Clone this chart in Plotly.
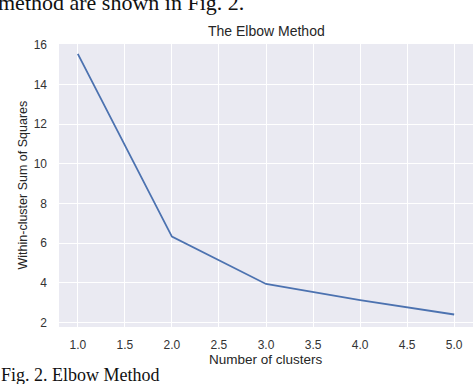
import plotly.graph_objects as go

clusters = [1, 2, 3, 4, 5]
wcss = [15.55, 6.33, 3.94, 3.13, 2.40]
x_ticks = [1.0, 1.5, 2.0, 2.5, 3.0, 3.5, 4.0, 4.5, 5.0]
y_ticks = [2, 4, 6, 8, 10, 12, 14, 16]

fig = go.Figure()
fig.add_trace(go.Scatter(x=clusters, y=wcss, mode="lines",
                         line=dict(color="#4c72b0", width=1.8)))

W, H = 474, 384
L, R, T, B = 59, 1, 44, 57
tick_font = dict(family="Liberation Sans, Arial, sans-serif", size=12, color="#333333")

fig.update_layout(
    width=W, height=H, autosize=False,
    margin=dict(l=L, r=R, t=T, b=B, autoexpand=False),
    paper_bgcolor="white", plot_bgcolor="#eaeaf2",
    showlegend=False,
    xaxis=dict(range=[0.8, 5.2], tickvals=x_ticks,
               ticktext=[f"{v:.1f}" for v in x_ticks],
               showgrid=True, gridcolor="white", gridwidth=1.2,
               zeroline=False, showline=False, ticks="",
               tickfont=tick_font, ticklabelstandoff=9, automargin=False),
    yaxis=dict(range=[1.77, 16.05], tickvals=y_ticks,
               showgrid=True, gridcolor="white", gridwidth=1.2,
               zeroline=False, showline=False, ticks="",
               tickfont=tick_font, ticklabelstandoff=11, automargin=False),
    annotations=[
        dict(text="The Elbow Method", xref="paper", yref="paper", x=0.5, y=1,
             yshift=13, showarrow=False, xanchor="center", yanchor="middle",
             font=dict(family="Liberation Sans, Arial, sans-serif", size=14, color="#262626")),
        dict(text="Number of clusters", xref="paper", yref="paper", x=0.5, y=0,
             yshift=-32, showarrow=False, xanchor="center", yanchor="middle",
             font=dict(family="Liberation Sans, Arial, sans-serif", size=13.5, color="#262626")),
        dict(text="Within-cluster Sum of Squares", xref="paper", yref="paper", x=0, y=0.5,
             xshift=-37, showarrow=False, xanchor="center", yanchor="middle", textangle=-90,
             font=dict(family="Liberation Sans, Arial, sans-serif", size=12.5, color="#262626")),
        dict(text="method are shown in Fig. 2.", xref="paper", yref="paper", x=0, y=1,
             xshift=-L - 4, yshift=T - 2, showarrow=False, xanchor="left", yanchor="middle",
             font=dict(family="Liberation Serif, Times New Roman, serif", size=22, color="#111111")),
        dict(text="Fig. 2. Elbow Method", xref="paper", yref="paper", x=0, y=0,
             xshift=-L - 1, yshift=-48, showarrow=False, xanchor="left", yanchor="middle",
             font=dict(family="Liberation Serif, Times New Roman, serif", size=18, color="#111111")),
    ],
)

fig.write_html("out.html", config={"displayModeBar": False},
               post_script="document.body.style.margin='0';document.body.style.padding='0';document.body.style.overflow='hidden';")
